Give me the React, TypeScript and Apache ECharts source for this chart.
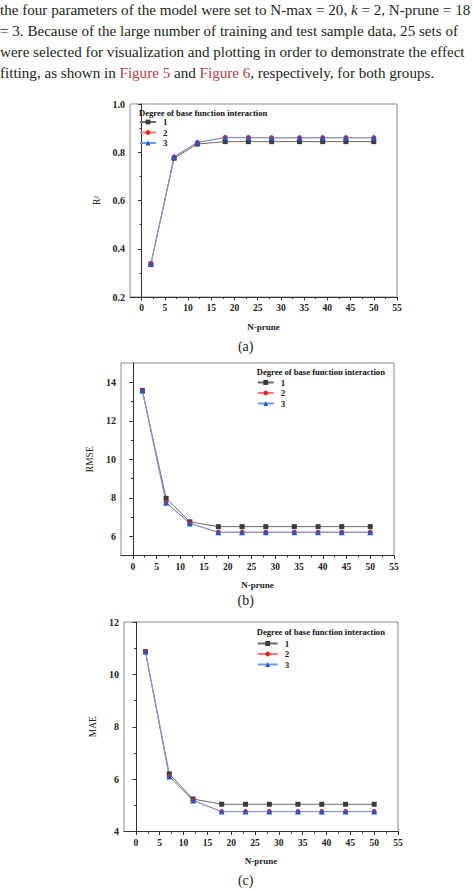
import { useEffect, useRef } from "react";
import * as echarts from "echarts";

// N-prune values on the x axis
const nPrune = [2, 7, 12, 18, 23, 28, 34, 39, 44, 50];
const xTicks = [0, 5, 10, 15, 20, 25, 30, 35, 40, 45, 50, 55];
const xMinorTicks = [2.5, 7.5, 12.5, 17.5, 22.5, 27.5, 32.5, 37.5, 42.5, 47.5, 52.5];

// (a) R2
const r2Deg1 = [0.337, 0.775, 0.834, 0.844, 0.844, 0.844, 0.844, 0.844, 0.844, 0.844];
const r2Deg2 = [0.337, 0.780, 0.840, 0.862, 0.861, 0.860, 0.860, 0.860, 0.860, 0.860];
const r2Deg3 = [0.337, 0.782, 0.841, 0.860, 0.860, 0.860, 0.860, 0.860, 0.860, 0.860];
const r2Ticks = [0.2, 0.4, 0.6, 0.8, 1.0];
const r2Minor = [0.3, 0.5, 0.7, 0.9];

// (b) RMSE
const rmseDeg1 = [13.57, 7.97, 6.75, 6.5, 6.5, 6.5, 6.5, 6.5, 6.5, 6.5];
const rmseDeg2 = [13.57, 7.76, 6.67, 6.21, 6.21, 6.21, 6.21, 6.21, 6.21, 6.21];
const rmseDeg3 = [13.57, 7.74, 6.66, 6.21, 6.21, 6.21, 6.21, 6.21, 6.21, 6.21];
const rmseTicks = [6, 8, 10, 12, 14];
const rmseMinor = [7, 9, 11, 13];

// (c) MAE
const maeDeg1 = [10.87, 6.2, 5.24, 5.04, 5.04, 5.04, 5.04, 5.04, 5.04, 5.04];
const maeDeg2 = [10.87, 6.11, 5.19, 4.76, 4.76, 4.76, 4.76, 4.76, 4.76, 4.76];
const maeDeg3 = [10.87, 6.1, 5.18, 4.76, 4.76, 4.76, 4.76, 4.76, 4.76, 4.76];
const maeTicks = [4, 6, 8, 10, 12];
const maeMinor = [5, 7, 9, 11];

const degreeNames = ["1", "2", "3"];
const legendTitle = "Degree of base function interaction";

const paragraph = [
  "the four parameters of the model were set to N-max = 20, {i|k} = 2, N-prune = 18",
  "= 3. Because of the large number of training and test sample data, 25 sets of",
  "were selected for visualization and plotting in order to demonstrate the effect",
  "fitting, as shown in {fig|Figure 5} and {fig|Figure 6}, respectively, for both groups.",
];

const SERIF = "Liberation Serif";
const tickFont = { fontFamily: SERIF, fontWeight: "bold" as const, fontSize: 10, color: "#222" };

const grids = [
  { left: 130, top: 104, width: 267, height: 193 },
  { left: 121, top: 363, width: 273, height: 192.5 },
  { left: 124, top: 622, width: 274, height: 209.5 },
];

const panels = [
  { yName: "R²", yMin: 0.2, yMax: 1.0, ticks: r2Ticks, minor: r2Minor, fmt: (v: number) => v.toFixed(1), nameGap: 21, data: [r2Deg1, r2Deg2, r2Deg3], legend: { left: 139, top: 117.5, title: 113.3, w: 16 } },
  { yName: "RMSE", yMin: 5, yMax: 15, ticks: rmseTicks, minor: rmseMinor, fmt: (v: number) => String(v), nameGap: 20, data: [rmseDeg1, rmseDeg2, rmseDeg3], legend: { left: 256.7, top: 378, title: 372.7, w: 16 } },
  { yName: "MAE", yMin: 4, yMax: 12, ticks: maeTicks, minor: maeMinor, fmt: (v: number) => String(v), nameGap: 19, data: [maeDeg1, maeDeg2, maeDeg3], legend: { left: 256.7, top: 639, title: 632.3, w: 20 } },
];

const seriesStyle = [
  { symbol: "rect", symbolSize: 5, line: "#6b6b6b", item: "#3c3c3c" },
  { symbol: "circle", symbolSize: 5, line: "#f27a7a", item: "#ee2222" },
  { symbol: "triangle", symbolSize: 6, line: "#6c9be6", item: "#2456c6" },
];

export default function App() {
  const elRef = useRef<HTMLDivElement>(null);

  useEffect(() => {
    if (!elRef.current) return;
    const chart = echarts.init(elRef.current, undefined, { renderer: "svg" });

    const xAxes: any[] = [];
    const yAxes: any[] = [];
    const series: any[] = [];
    const legends: any[] = [];
    const graphics: any[] = [];

    panels.forEach((p, gi) => {
      xAxes.push({
        type: "value", gridIndex: gi, min: -2.5, max: 55,
        name: "N-prune", nameLocation: "middle", nameGap: 25,
        nameTextStyle: { ...tickFont, fontSize: 9 },
        axisLine: { lineStyle: { color: "#333", width: 1 } },
        axisTick: { customValues: xTicks, length: 3.5, lineStyle: { color: "#333" } },
        axisLabel: { customValues: xTicks, margin: 6, ...tickFont, fontSize: 9.5 },
        splitLine: { show: false },
      });
      xAxes.push({
        type: "value", gridIndex: gi, min: -2.5, max: 55, position: "bottom",
        axisLine: { show: false },
        axisTick: { customValues: xMinorTicks, length: 2, lineStyle: { color: "#333" } },
        axisLabel: { show: false },
        splitLine: { show: false },
      });
      yAxes.push({
        type: "value", gridIndex: gi, min: p.yMin, max: p.yMax,
        name: p.yName, nameLocation: "middle", nameGap: p.nameGap,
        nameTextStyle: { fontFamily: SERIF, fontSize: 9.5, color: "#222" },
        axisLine: { show: true, lineStyle: { color: "#333", width: 1 } },
        axisTick: { show: true, customValues: p.ticks, length: 3.5, lineStyle: { color: "#333" } },
        axisLabel: { customValues: p.ticks, margin: 5, formatter: p.fmt, ...tickFont },
        splitLine: { show: false },
      });
      yAxes.push({
        type: "value", gridIndex: gi, min: p.yMin, max: p.yMax, position: "left",
        axisLine: { show: false },
        axisTick: { show: true, customValues: p.minor, length: 2, lineStyle: { color: "#333" } },
        axisLabel: { show: false },
        splitLine: { show: false },
      });
      p.data.forEach((vals, si) => {
        const s = seriesStyle[si];
        series.push({
          name: degreeNames[si], type: "line",
          xAxisIndex: gi * 2, yAxisIndex: gi * 2,
          data: nPrune.map((x, i) => [x, vals[i]]),
          symbol: s.symbol, symbolSize: s.symbolSize,
          lineStyle: { color: s.line, width: 1 },
          itemStyle: { color: s.item },
        });
      });
      legends.push({
        orient: "vertical", left: p.legend.left, top: p.legend.top,
        data: degreeNames, itemWidth: p.legend.w, itemHeight: 6, itemGap: 1.5,
        padding: 0, selectedMode: false,
        textStyle: { ...tickFont, fontSize: 9, padding: [0, 0, 0, 2] },
      });
      graphics.push({
        type: "text", left: p.legend.left, top: p.legend.title - 5,
        style: { text: legendTitle, fontFamily: SERIF, fontWeight: "bold", fontSize: 8.6, fill: "#111" },
      });
    });

    paragraph.forEach((line, i) => {
      graphics.push({
        type: "text", x: 0, y: 9.5 + i * 21,
        style: {
          text: line, fontFamily: SERIF, fontSize: 15.1, fill: "#231f20", verticalAlign: "middle",
          rich: {
            i: { fontFamily: SERIF, fontSize: 15.1, fontStyle: "italic", fill: "#231f20" },
            fig: { fontFamily: SERIF, fontSize: 15.1, fill: "#b3404a" },
          },
        },
      });
    });

    [["(a)", 346], ["(b)", 600], ["(c)", 880]].forEach(([t, y]) => {
      graphics.push({
        type: "text", x: 245.7, y: y as number,
        style: { text: t as string, fontFamily: SERIF, fontSize: 14, fill: "#222", align: "center", verticalAlign: "middle" },
      });
    });

    chart.setOption({
      animation: false,
      backgroundColor: "#fff",
      grid: grids.map((g) => ({ ...g, show: true, borderColor: "#8a8a8a", borderWidth: 1, backgroundColor: "transparent" })),
      xAxis: xAxes,
      yAxis: yAxes,
      legend: legends,
      series,
      graphic: graphics,
    });

    return () => chart.dispose();
  }, []);

  return <div ref={elRef} style={{ position: "fixed", left: 0, top: 0, width: 474, height: 891 }} />;
}
